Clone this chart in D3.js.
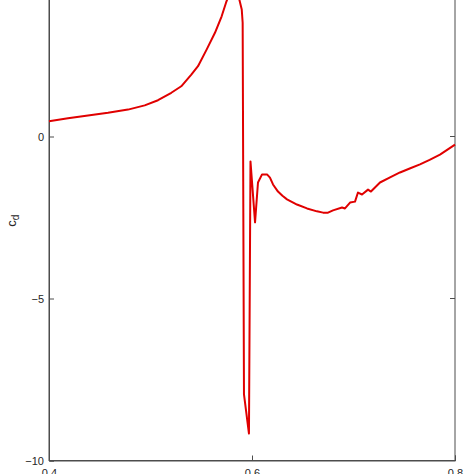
<!DOCTYPE html>
<html><head><meta charset="utf-8">
<script src="https://cdn.jsdelivr.net/npm/d3@7"></script>
<style>body{margin:0;background:#fff}svg{display:block}</style>
</head><body>
<script>
const xTicks = [0.4, 0.6, 0.8];
const yTicks = [-10, -5, 0, 5];
const xVals = [0.400,0.4187,0.4384,0.4581,0.4778,0.4943,0.5074,0.5205,0.5303,0.5402,0.5468,0.5554,0.5635,0.5701,0.5744,0.5770,0.5793,0.5830,0.5875,0.5899,0.5908,0.5921,0.5970,0.5985,0.6030,0.6059,0.6099,0.6148,0.6177,0.6207,0.6256,0.6300,0.6345,0.6443,0.6542,0.6640,0.6700,0.6749,0.6798,0.6887,0.6916,0.6966,0.7015,0.7044,0.7084,0.7143,0.7172,0.7261,0.7360,0.7458,0.7560,0.7655,0.7750,0.7852,0.800];
const cdVals = [0.47,0.56,0.65,0.73,0.83,0.96,1.12,1.35,1.55,1.91,2.17,2.69,3.20,3.71,4.13,4.35,4.48,4.45,4.23,3.92,3.51,-7.96,-9.17,-0.77,-2.65,-1.42,-1.17,-1.17,-1.27,-1.48,-1.70,-1.83,-1.94,-2.10,-2.22,-2.31,-2.35,-2.35,-2.28,-2.19,-2.22,-2.04,-2.01,-1.73,-1.79,-1.64,-1.70,-1.42,-1.26,-1.11,-0.98,-0.86,-0.72,-0.56,-0.25];

const W = 474, H = 474;
const svg = d3.select("body").append("svg").attr("width", W).attr("height", H);
const left = 49, right = 455, bottom = 460.5;
const pxPerUnit = 32.4;
const x = d3.scaleLinear().domain([0.4, 0.8]).range([left, right]);
const y = d3.scaleLinear().domain([-10, 5]).range([bottom, bottom - 15 * pxPerUnit]);
const plotTop = y(5);
const axisCol = "#4d4d4d", textCol = "#262626";
const font = "Liberation Sans, Arial, sans-serif";

svg.append("rect").attr("x", left).attr("y", plotTop).attr("width", right - left).attr("height", bottom - plotTop)
  .attr("fill", "none").attr("stroke", axisCol).attr("stroke-width", 1);

const xAxis = d3.axisBottom(x).tickValues(xTicks).tickSize(-5).tickPadding(9).tickFormat(d3.format(".1f"));
const gx = svg.append("g").attr("transform", `translate(0,${bottom})`).call(xAxis);
const yAxis = d3.axisLeft(y).tickValues(yTicks).tickSize(-5).tickPadding(5).tickFormat(d3.format("d"));
const gy = svg.append("g").attr("transform", `translate(${left},0)`).call(yAxis);
[gx, gy].forEach(g => {
  g.select(".domain").attr("stroke", axisCol);
  g.selectAll(".tick line").attr("stroke", axisCol);
  g.selectAll(".tick text").attr("fill", textCol).attr("font-family", font).attr("font-size", 11);
});
svg.append("g").selectAll("line").data(xTicks).join("line")
  .attr("x1", d => x(d)).attr("x2", d => x(d)).attr("y1", plotTop).attr("y2", plotTop + 5).attr("stroke", axisCol);
svg.append("g").selectAll("line").data(yTicks).join("line")
  .attr("x1", right).attr("x2", right - 5).attr("y1", d => y(d)).attr("y2", d => y(d)).attr("stroke", axisCol);

const yl = svg.append("text").attr("transform", `translate(16,${y(-2.6)}) rotate(-90)`)
  .attr("text-anchor", "middle").attr("fill", textCol).attr("font-family", font).attr("font-size", 13);
yl.append("tspan").text("c");
yl.append("tspan").attr("font-size", 10).attr("dy", 3).text("d");

const data = xVals.map((v, i) => [v, cdVals[i]]);
svg.append("path").datum(data)
  .attr("fill", "none").attr("stroke", "#e00000").attr("stroke-width", 2).attr("stroke-linejoin", "round")
  .attr("d", d3.line().x(d => x(d[0])).y(d => y(d[1])));
</script>
</body></html>
